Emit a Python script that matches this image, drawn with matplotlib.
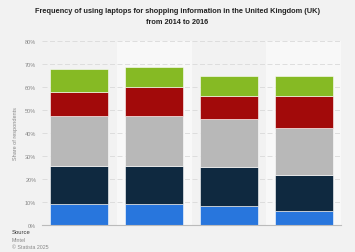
import matplotlib
matplotlib.use("Agg")
import matplotlib.pyplot as plt
import numpy as np

plt.rcParams["font.family"] = ["Liberation Sans", "DejaVu Sans"]

# four survey waves (no axis labels shown in the chart)
periods = ["2014", "2015", "2015b", "2016"]

# stacked segments, share of respondents (%), bottom to top
seg_blue = [9.0, 9.0, 8.3, 6.0]
seg_navy = [16.8, 16.8, 16.8, 15.9]
seg_gray = [21.5, 21.5, 20.8, 20.3]
seg_red = [10.4, 12.6, 10.0, 13.7]
seg_green = [10.1, 8.9, 9.0, 9.0]

yticks = [0, 10, 20, 30, 40, 50, 60, 70, 80]

colors = ["#2876dd", "#0f2940", "#b8b8b8", "#a20a0a", "#86ba24"]
segments = [seg_blue, seg_navy, seg_gray, seg_red, seg_green]

bg = "#f2f2f2"
fig = plt.figure(figsize=(3.55, 2.53), dpi=100, facecolor=bg)
ax = fig.add_axes([0.118, 0.107, 0.843, 0.728])
ax.set_facecolor(bg)

ind = np.arange(len(periods))
ax.set_xlim(-0.5, len(periods) - 0.5)
ax.set_ylim(0, 80)

# lighter bands behind every second bar
for i in ind[1::2]:
    ax.axvspan(i - 0.5, i + 0.5, color="#f8f8f8", zorder=0, lw=0)

for y in yticks[1:]:
    ax.axhline(y, color="#dadada", lw=0.6, ls=(0, (6, 3)), zorder=1)

bottom = np.zeros(len(periods))
for vals, c in zip(segments, colors):
    ax.bar(ind, vals, 0.77, bottom=bottom, color=c, edgecolor="white",
           linewidth=0.4, zorder=2)
    bottom += np.array(vals)

ax.set_xticks(ind)
ax.set_xticklabels([])
ax.tick_params(axis="x", length=0)
ax.set_yticks(yticks)
ax.set_yticklabels(["%d%%" % v for v in yticks], fontsize=4, color="#888888")
ax.tick_params(axis="y", length=0, pad=4)
for s in ["top", "right", "left"]:
    ax.spines[s].set_visible(False)
ax.spines["bottom"].set_color("#bbbbbb")
ax.spines["bottom"].set_linewidth(0.8)

ax.set_ylabel("Share of respondents", fontsize=4, color="#888888", labelpad=5)

fig.text(0.5, 0.968, "Frequency of using laptops for shopping information in the United Kingdom (UK)\nfrom 2014 to 2016",
         ha="center", va="top", fontsize=5.35, fontweight="bold", color="#222222",
         linespacing=1.7)

fig.text(0.034, 0.083, "Source", fontsize=4.2, color="#333333", va="center")
fig.text(0.034, 0.050, "Mintel", fontsize=3.8, color="#888888", va="center")
fig.text(0.034, 0.022, "\u00a9 Statista 2025", fontsize=3.8, color="#888888", va="center")

fig.savefig("out.png", dpi=100, facecolor=bg)
